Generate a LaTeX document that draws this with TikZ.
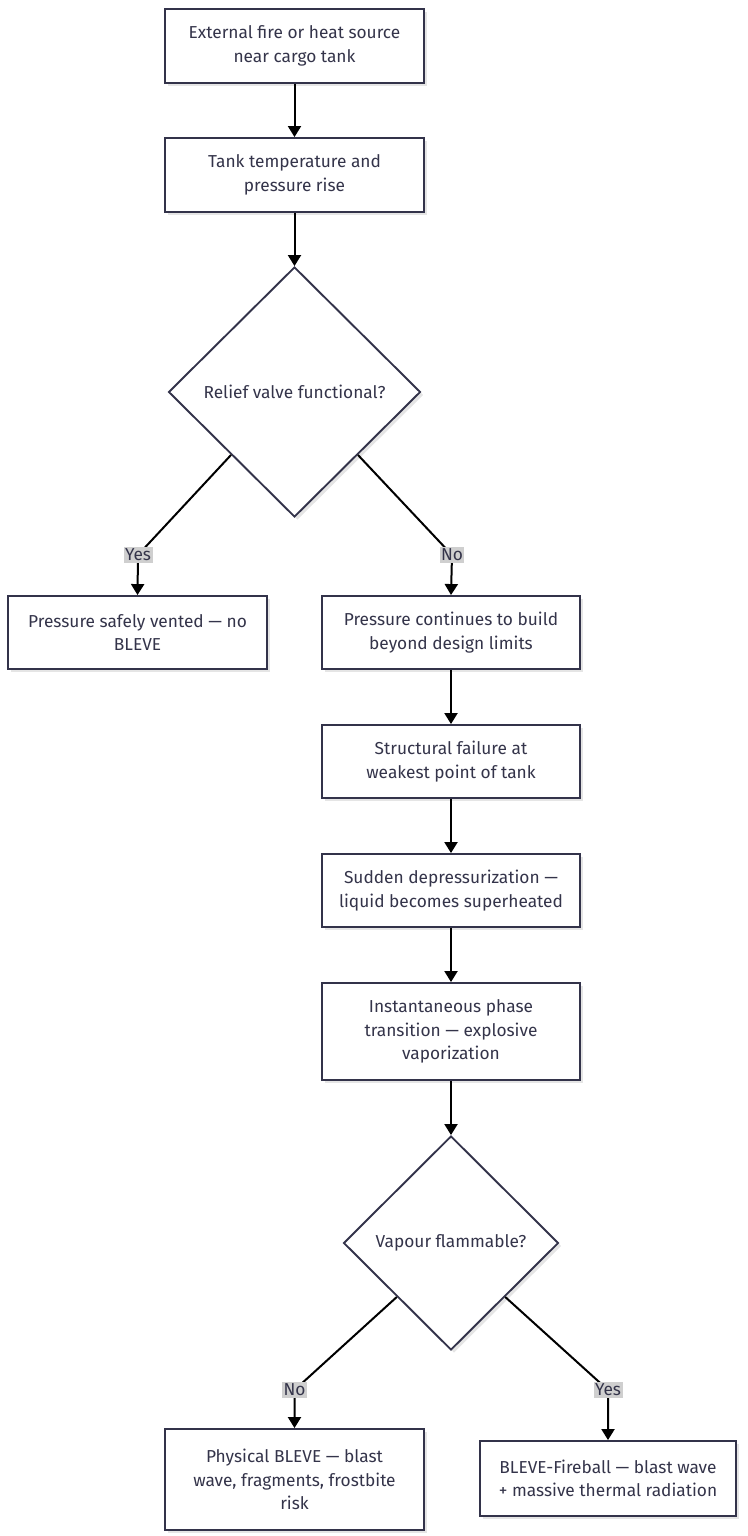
\documentclass[tikz,border=0pt]{standalone}
\usepackage{fontspec}
\setmainfont{Fira Sans}
\usetikzlibrary{shapes.geometric,arrows.meta,shadows}
\definecolor{boxc}{HTML}{33334A}
\definecolor{txtc}{HTML}{34344A}
\definecolor{lblc}{HTML}{CFCFCF}
\begin{document}
\begin{tikzpicture}[x=1pt,y=-1pt,
  shad/.style={drop shadow={shadow xshift=3pt,shadow yshift=-3pt,fill=black!10,opacity=1}},
  procbox/.style={draw=boxc,line width=1.9pt,fill=white,shad,align=center,text=txtc,
    font=\fontsize{17.3pt}{23.5pt}\selectfont,inner sep=0pt},
  decbox/.style={diamond,aspect=1,draw=boxc,line width=1.9pt,fill=white,shad,align=center,text=txtc,
    font=\fontsize{17.3pt}{23.5pt}\selectfont,inner sep=0pt},
  lbl/.style={fill=lblc,text=txtc,font=\fontsize{17.3pt}{19pt}\selectfont,inner sep=1.5pt},
  flow/.style={draw=black,line width=2pt,-{Triangle[width=13pt,length=11pt]}}
]
\useasboundingbox (0,0) rectangle (747,1536);

\node[procbox,minimum width=259pt,minimum height=74pt] (b1) at (294.5,46) {External fire or heat source\\near cargo tank};
\node[procbox,minimum width=259pt,minimum height=74pt] (b2) at (294.5,175) {Tank temperature and\\pressure rise};
\node[decbox,minimum width=252pt,minimum height=250pt] (d1) at (294.5,392) {Relief valve functional?};
\node[procbox,minimum width=259pt,minimum height=73pt] (pv) at (137.5,632.5) {Pressure safely vented --- no\\BLEVE};
\node[procbox,minimum width=258pt,minimum height=73pt] (pc) at (451,632.5) {Pressure continues to build\\beyond design limits};
\node[procbox,minimum width=258pt,minimum height=73pt] (sf) at (451,761.5) {Structural failure at\\weakest point of tank};
\node[procbox,minimum width=258pt,minimum height=73pt] (sd) at (451,890.5) {Sudden depressurization ---\\liquid becomes superheated};
\node[procbox,minimum width=258pt,minimum height=97pt] (it) at (451,1031.5) {Instantaneous phase\\transition --- explosive\\vaporization};
\node[decbox,minimum width=215pt,minimum height=214pt] (d2) at (451,1243) {Vapour flammable?};
\node[procbox,minimum width=259pt,minimum height=101pt] (pb) at (294.5,1479.5) {Physical BLEVE --- blast\\wave, fragments, frostbite\\risk};
\node[procbox,minimum width=256pt,minimum height=75pt] (fb) at (608,1478.5) {BLEVE-Fireball --- blast wave\\+ massive thermal radiation};

\coordinate (l1) at (138,555);
\coordinate (l2) at (452,555);
\coordinate (l3) at (294.5,1390);
\coordinate (l4) at (608,1390);

\draw[flow] (b1.south) -- (b2.north);
\draw[flow] (b2.south) -- (d1.north);
\draw[flow] (d1.south west) -- (l1) -- (pv.north);
\draw[flow] (d1.south east) -- (l2) -- (pc.north);
\draw[flow] (pc.south) -- (sf.north);
\draw[flow] (sf.south) -- (sd.north);
\draw[flow] (sd.south) -- (it.north);
\draw[flow] (it.south) -- (d2.north);
\draw[flow] (d2.south west) -- (l3) -- (pb.north);
\draw[flow] (d2.south east) -- (l4) -- (fb.north);

\node[lbl] (ly1) at (l1) {Yes};
\node[lbl] (ln1) at (l2) {No};
\node[lbl] (ln2) at (l3) {No};
\node[lbl] (ly2) at (l4) {Yes};
\end{tikzpicture}
\end{document}
